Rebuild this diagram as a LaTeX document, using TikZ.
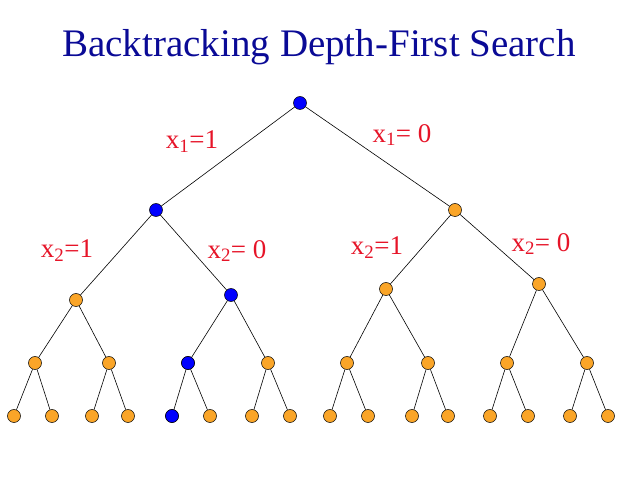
\documentclass[tikz,border=0pt]{standalone}
\usepackage{fontspec}
\setmainfont{Liberation Serif}
\definecolor{org}{RGB}{250,165,40}
\definecolor{ttl}{RGB}{10,10,150}
\definecolor{lbl}{RGB}{230,20,40}
\begin{document}
\begin{tikzpicture}[x=1pt,y=-1pt,
  v/.style={circle,draw=black,line width=0.5pt,fill=org,minimum size=13pt,inner sep=0pt},
  b/.style={v,fill=blue},
  e/.style={line width=0.6pt},
  lab/.style={text=lbl,font=\fontsize{27}{30}\selectfont}]
\useasboundingbox (0,0) rectangle (638,478);
\node[text=ttl,font=\fontsize{39}{44}\selectfont] (t) at (319,47) {Backtracking Depth-First Search};
\node[b] (r) at (300,103) {};
\node[b] (a) at (156,210) {};
\node[v] (c) at (455,210) {};
\node[v] (a1) at (76,300) {};
\node[b] (a2) at (231,295) {};
\node[v] (c1) at (386,289) {};
\node[v] (c2) at (539,284) {};
\foreach \n/\x/\p in {l1/35/a1,l2/109/a1,l3/188/a2,l4/268/a2,l5/347/c1,l6/428/c1,l7/507/c2,l8/587/c2}{
  \node[v] (\n) at (\x,363) {};
  \draw[e] (\p) -- (\n);
}
\node[b] at (l3) {};
\foreach \n/\x/\p in {m1/14/l1,m2/52/l1,m3/92/l2,m4/128/l2,m5/172/l3,m6/210/l3,m7/252/l4,m8/290/l4,m9/330/l5,m10/368/l5,m11/412/l6,m12/448/l6,m13/490/l7,m14/528/l7,m15/570/l8,m16/608/l8}{
  \node[v] (\n) at (\x,416) {};
  \draw[e] (\p) -- (\n);
}
\node[b] at (m5) {};
\draw[e] (r)--(a) (r)--(c) (a)--(a1) (a)--(a2) (c)--(c1) (c)--(c2);
\node[lab] (t1) at (192,142) {x\textsubscript{1}=1};
\node[lab] (t2) at (402,135) {x\textsubscript{1}= 0};
\node[lab] (t3) at (67,251) {x\textsubscript{2}=1};
\node[lab] (t4) at (237,251) {x\textsubscript{2}= 0};
\node[lab] (t5) at (377,248) {x\textsubscript{2}=1};
\node[lab] (t6) at (541,244) {x\textsubscript{2}= 0};
\end{tikzpicture}
\end{document}
